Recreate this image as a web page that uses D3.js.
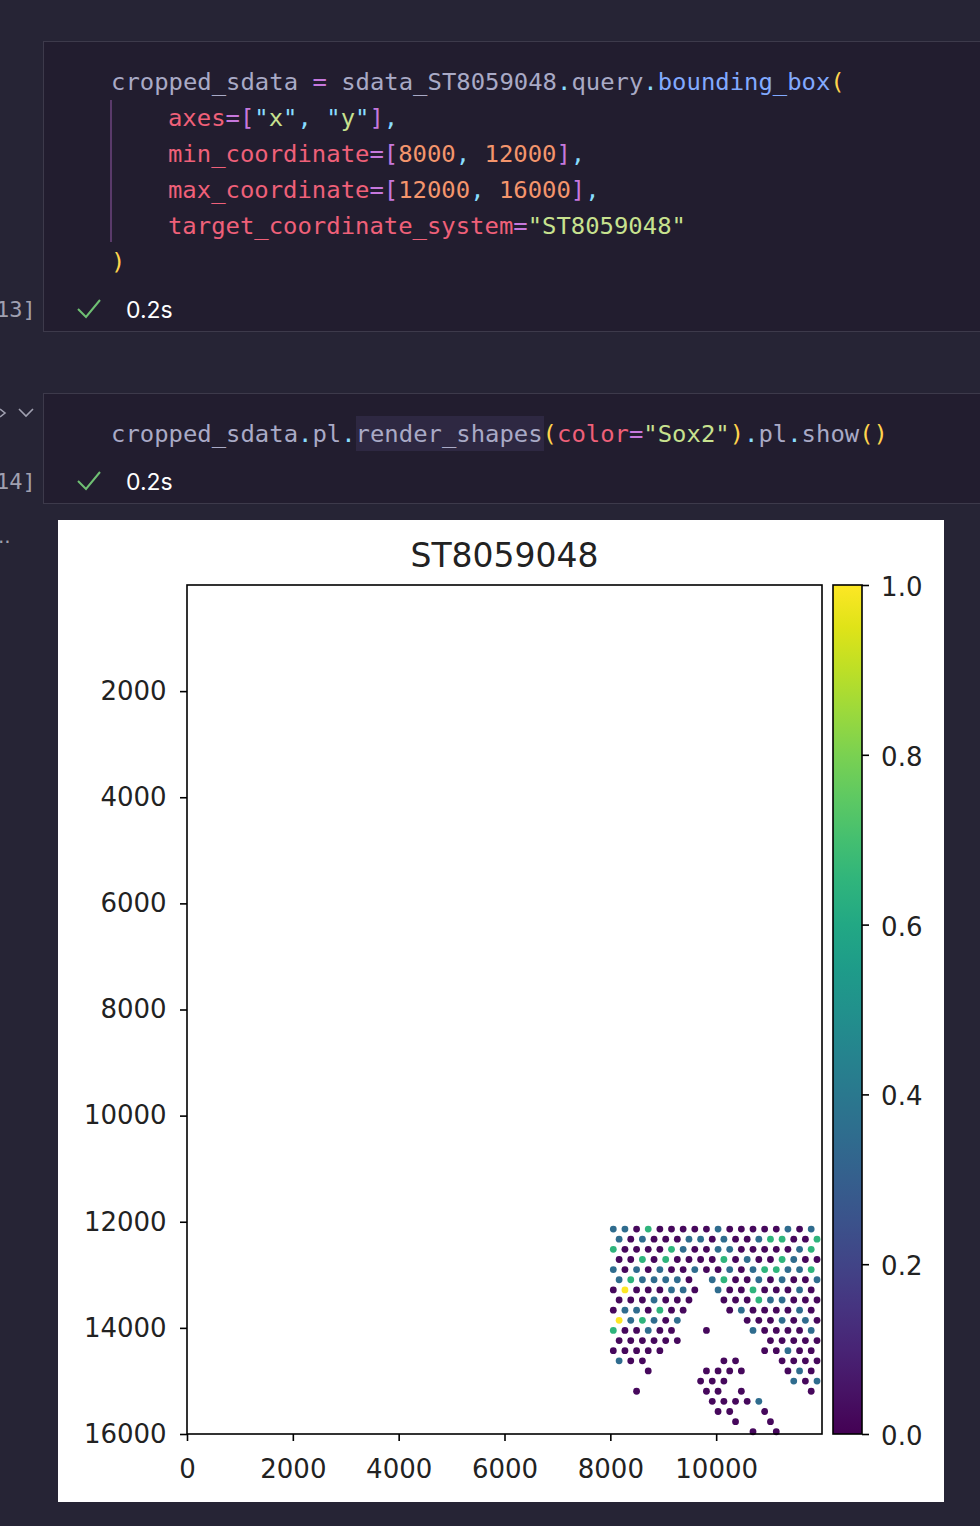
<!DOCTYPE html>
<html><head><meta charset="utf-8">
<script src="https://cdn.jsdelivr.net/npm/d3@7"></script>
<style>
body{margin:0;background:#262435;width:980px;height:1526px;overflow:hidden;font-family:"DejaVu Sans",sans-serif}
svg{display:block}
</style></head><body>
<svg id="s" width="980" height="1526"></svg>
<script>
// ---- data ----
const xTicks=[0,2000,4000,6000,8000,10000];
const yTicks=[2000,4000,6000,8000,10000,12000,14000,16000];
const cbTicks=[0.0,0.2,0.4,0.6,0.8,1.0];
const valueCodes={D:0.02,B:0.35,G:0.65,Y:1.0};
// hex spot grid: first spot x, half-step, first row y, row step (data units)
const gridX0=8056, gridHalf=110, gridY0=12138, gridRowStep=191;
const spotRows=[
"BBDGDDDDDBDDDDDBDB",
"BDBDDDBBDBDDBGGDDG",
"GDDDDGBDDBBDDDDDBG",
"DDGDGDDDDGDBDDGBDD",
"BDBDBDDBDDBDBGGBBG",
"BGBBBBD.BGDDBDBDDB",
"DYDDDBBD.BDDGDDDBD",
"DDDBDDD..DDDGBBDDD",
"DBBDGDD...DBDDDDBD",
"YBGBDB.....DDDBDBD",
"GDDBDD..D...BDDDDB",
"DDDDDD.......DDDDD",
"DDDDD........DDBDD",
"BDD......DD...DDDD",
"...D....DDDD...DBD",
".......DDD.....BDB",
"..D.....DD.D.....D",
"........DDDDB.....",
".........DD..D....",
"..........D..D....",
"............D.D..."];

const svg=d3.select("#s");
// ---- code cells ----
function cell(y,h){svg.append("rect").attr("x",43.5).attr("y",y+.5).attr("width",960).attr("height",h).attr("fill","#221d2f").attr("stroke","#3d3a4b");}
cell(41,290);cell(393,110);
const C={t:"#a9aac6",r:"#ef6079",o:"#f4956c",g:"#c8e28f",p:"#c678dd",b:"#82aaff",c:"#89ddff",y:"#ffd34d"};
const code=[
 [111,82,[["cropped_sdata ","t"],["= ","p"],["sdata_ST8059048","t"],[".","c"],["query","t"],[".","c"],["bounding_box","b"],["(","y"]]],
 [168,118,[["axes","r"],["=","p"],["[","p"],["\"","c"],["x","g"],["\"","c"],[", ","c"],["\"","c"],["y","g"],["\"","c"],["]","p"],[",","c"]]],
 [168,154,[["min_coordinate","r"],["=","p"],["[","p"],["8000","o"],[", ","c"],["12000","o"],["]","p"],[",","c"]]],
 [168,190,[["max_coordinate","r"],["=","p"],["[","p"],["12000","o"],[", ","c"],["16000","o"],["]","p"],[",","c"]]],
 [168,226,[["target_coordinate_system","r"],["=","p"],["\"ST8059048\"","g"]]],
 [111,262,[[")","y"]]],
 [111,434,[["cropped_sdata","t"],[".","c"],["pl","t"],[".","c"],["render_shapes","t"],["(","y"],["color","r"],["=","p"],["\"Sox2\"","g"],[")","y"],[".","c"],["pl","t"],[".","c"],["show","t"],["()","y"]]]
];
svg.append("rect").attr("x",356).attr("y",416).attr("width",188).attr("height",35).attr("fill","#2e2842");
svg.append("line").attr("x1",111).attr("x2",111).attr("y1",100).attr("y2",242).attr("stroke","#5a3a6a").attr("stroke-width",2);
code.forEach(([x,y,parts])=>{
 const t=svg.append("text").attr("x",x).attr("y",y+8).attr("font-family","DejaVu Sans Mono").attr("font-size",23.4).attr("textLength",null).attr("xml:space","preserve").attr("transform",`translate(${x},0) scale(1.022,1) translate(${-x},0)`);
 parts.forEach(([s,c])=>t.append("tspan").attr("fill",C[c]).text(s));
});
[[309,"13]"],[481,"14]"]].forEach(([y,s])=>{
 svg.append("text").attr("x",-4).attr("y",y+8).attr("fill","#a0a0b0").attr("font-size",22).attr("font-family","DejaVu Sans Mono").text(s);
 svg.append("path").attr("d",`M78 ${y} l8 8 l14 -17`).attr("fill","none").attr("stroke","#6fbf73").attr("stroke-width",2);
 svg.append("text").attr("x",126).attr("y",y+9).attr("fill","#ffffff").attr("font-size",23).attr("font-family","Inter, sans-serif").text("0.2s");
});
svg.append("path").attr("d","M19 409 l7 7 l7 -7").attr("fill","none").attr("stroke","#a0a0b0").attr("stroke-width",1.6);
svg.append("path").attr("d","M0 409 l5 4 l-5 4").attr("fill","none").attr("stroke","#a0a0b0").attr("stroke-width",1.6);
svg.append("text").attr("x",-2).attr("y",543).attr("fill","#a0a0b0").attr("font-size",20).text("..");

// ---- chart ----
svg.append("rect").attr("x",58).attr("y",520).attr("width",886).attr("height",982).attr("fill","#fff");
const L=187,R=822,T=585,B=1434;
const x=d3.scaleLinear().domain([0,12000]).range([L,R]);
const y=d3.scaleLinear().domain([0,16000]).range([T,B]);
const spots=[];
spotRows.forEach((row,i)=>{[...row].forEach((ch,j)=>{if(ch!==".")spots.push({x:gridX0+(2*j+(i%2))*gridHalf,y:gridY0+i*gridRowStep,v:valueCodes[ch]});});});
const color=d3.scaleSequential(d3.interpolateViridis).domain([0,1]);
svg.append("g").selectAll("circle").data(spots).join("circle")
 .attr("cx",d=>x(d.x)).attr("cy",d=>y(d.y)).attr("r",3.4).attr("fill",d=>color(d.v));
svg.append("rect").attr("x",L).attr("y",T).attr("width",R-L).attr("height",B-T).attr("fill","none").attr("stroke","#000").attr("stroke-width",1.6);
const fs=26;
const xa=svg.append("g").attr("transform",`translate(0,${B})`).call(d3.axisBottom(x).tickValues(xTicks).tickFormat(d3.format("d")).tickSize(7).tickSizeOuter(0));
const ya=svg.append("g").attr("transform",`translate(${L},0)`).call(d3.axisLeft(y).tickValues(yTicks).tickFormat(d3.format("d")).tickSize(7).tickSizeOuter(0));
[xa,ya].forEach(a=>{a.select(".domain").remove();a.selectAll("line").attr("stroke","#000").attr("stroke-width",1.6);a.selectAll("text").attr("font-size",fs).attr("font-family","DejaVu Sans").attr("fill","#222");});
xa.selectAll("text").attr("dy","1.3em");
ya.selectAll("text").attr("dx","-0.4em");
svg.append("text").attr("x",(L+R)/2).attr("y",567).attr("text-anchor","middle").attr("font-size",33).attr("font-family","DejaVu Sans").attr("fill","#222").text("ST8059048");
// colorbar
const cbx=833,cbw=29;
const cy=d3.scaleLinear().domain([0,1]).range([B,T]);
const grad=svg.append("defs").append("linearGradient").attr("id","vg").attr("x1",0).attr("y1",1).attr("x2",0).attr("y2",0);
d3.range(0,1.001,0.05).forEach(t=>grad.append("stop").attr("offset",t).attr("stop-color",d3.interpolateViridis(t)));
svg.append("rect").attr("x",cbx).attr("y",T).attr("width",cbw).attr("height",B-T).attr("fill","url(#vg)").attr("stroke","#000").attr("stroke-width",1.6);
const ca=svg.append("g").attr("transform",`translate(${cbx+cbw},0)`).call(d3.axisRight(cy).tickValues(cbTicks).tickFormat(d3.format(".1f")).tickSize(7).tickSizeOuter(0));
ca.select(".domain").remove();ca.selectAll("line").attr("stroke","#000").attr("stroke-width",1.6);
ca.selectAll("text").attr("font-size",fs).attr("font-family","DejaVu Sans").attr("fill","#222").attr("dx","0.35em").attr("dy","0.4em");
</script></body></html>
